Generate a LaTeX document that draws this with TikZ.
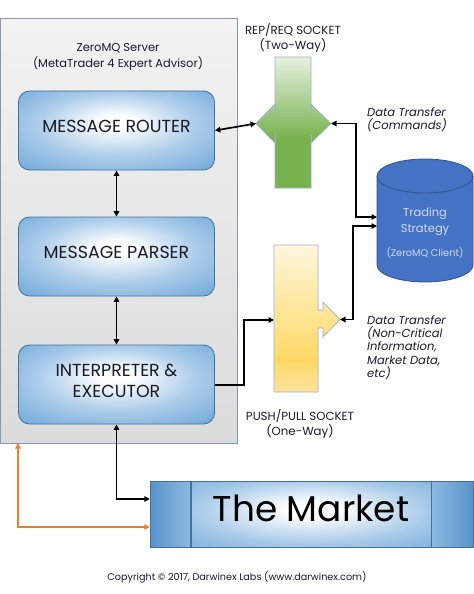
\documentclass[tikz,border=0pt]{standalone}
\usepackage{fontspec}
\setmainfont{Poppins}
\usetikzlibrary{arrows.meta}
\definecolor{boxblue}{HTML}{5B9BD5}
\definecolor{boxedge}{HTML}{41719C}
\definecolor{srvedge}{HTML}{8497B0}
\definecolor{cylblue}{HTML}{4472C4}
\definecolor{cyledge}{HTML}{2F528F}
\definecolor{cyltext}{HTML}{D0DCF0}
\definecolor{grlight}{HTML}{E6F1DE}
\definecolor{grdark}{HTML}{78B350}
\definecolor{yelight}{HTML}{FFF6DC}
\definecolor{yedark}{HTML}{FFD966}
\definecolor{yebot}{HTML}{FCE3A0}
\definecolor{orangeln}{HTML}{ED7D31}
\definecolor{txt}{HTML}{1A1A2A}
\definecolor{baredge}{HTML}{9DB0CF}
\pgfdeclareradialshading{boxshade}{\pgfpoint{0bp}{6bp}}{color(0bp)=(white); color(4bp)=(white); color(20bp)=(boxblue!50); color(38bp)=(boxblue!90); color(50bp)=(boxblue!95!black)}
\pgfdeclareradialshading{mktshade}{\pgfpoint{0bp}{4bp}}{color(0bp)=(white); color(5bp)=(white); color(25bp)=(boxblue!55); color(50bp)=(boxblue)}
\pgfdeclareverticalshading{greenshade}{100bp}{color(0bp)=(grdark); color(44bp)=(grdark); color(75bp)=(grlight); color(100bp)=(grlight)}
\pgfdeclareverticalshading{yellowshade}{100bp}{color(0bp)=(yebot); color(25bp)=(yebot); color(36bp)=(yedark); color(75bp)=(yelight); color(100bp)=(yelight)}
\begin{document}
\begin{tikzpicture}[x=1bp,y=-1bp,
  msgbox/.style={draw=boxedge,line width=0.8bp,rounded corners=11bp,shading=boxshade,
    minimum width=196bp,minimum height=79bp,inner sep=0pt},
  msgtext/.style={font=\fontsize{17.5}{21}\selectfont,text=txt,align=center,inner sep=0pt},
  lbl/.style={font=\fontsize{11.5}{13}\selectfont,text=txt,align=center,inner sep=0pt},
  sock/.style={font=\fontsize{11.8}{13}\selectfont,text=txt,align=center,inner sep=0pt},
  itl/.style={font=\fontsize{11.6}{13.5}\selectfont\itshape,text=txt,align=left,anchor=north west,inner sep=0pt},
  conn/.style={line width=1.7bp,black,{Triangle[length=5.5bp,width=5.5bp]}-{Triangle[length=5.5bp,width=5.5bp]}},
  conn1/.style={line width=1.7bp,black,-{Triangle[length=5.5bp,width=5.5bp]}},
  oconn/.style={line width=1.5bp,orangeln,{Triangle[length=5.5bp,width=5.5bp]}-{Triangle[length=5.5bp,width=5.5bp]}}]
\useasboundingbox (0,0) rectangle (474,594);
\fill[white] (0,0) rectangle (474,594);
% server box
\node[draw=srvedge,line width=0.9bp,top color=black!5,bottom color=black!14,minimum width=236bp,minimum height=425bp,inner sep=0pt,anchor=north west] (server) at (0.5,18) {};
\node[lbl] (srvl1) at (118,48) {ZeroMQ Server};
\node[lbl] (srvl2) at (118,64) {(MetaTrader 4 Expert Advisor)};
% message boxes
\node[msgbox] (router) at (116.5,130.5) {};
\node[msgtext] (routert) at (116.5,126) {MESSAGE ROUTER};
\node[msgbox] (parser) at (116.5,256.5) {};
\node[msgtext] (parsert) at (116.5,252) {MESSAGE PARSER};
\node[msgbox] (interp) at (116.5,384.5) {};
\node[msgtext] (interpt) at (116.5,380.5) {INTERPRETER \&\\EXECUTOR};
% REP/REQ socket
\node[sock] (repl1) at (293,30) {REP/REQ SOCKET};
\node[sock] (repl2) at (293,46) {(Two-Way)};
\path[draw=baredge,line width=0.7bp,shading=greenshade]
  (275,57) -- (311,57) -- (311,104) -- (331,123.5) -- (311,143) -- (311,188) -- (275,188) -- (275,143) -- (256,123.5) -- (275,104) -- cycle;
\draw[baredge,line width=0.7bp] (275,104) -- (275,113) (275,134) -- (275,143) (311,104) -- (311,113) (311,134) -- (311,143);
\coordinate (repL) at (256,123.5);
\coordinate (repR) at (331,123.5);
% PUSH/PULL socket
\node[sock] (pushl1) at (300,416) {PUSH/PULL SOCKET};
\node[sock] (pushl2) at (300,432) {(One-Way)};
\path[draw=baredge,line width=0.7bp,shading=yellowshade]
  (274,245) -- (318,245) -- (318,310) -- (323,310) -- (323,302) -- (340,319.5) -- (323,337) -- (323,328) -- (318,328) -- (318,392) -- (274,392) -- cycle;
\coordinate (pushL) at (274,320);
\coordinate (pushR) at (340,319.5);
% cylinder
\fill[cylblue] (377,176) -- (377,265) .. controls (377,274.4) and (398.5,282) .. (425,282) .. controls (451.5,282) and (473,274.4) .. (473,265) -- (473,176) -- cycle;
\draw[cyledge,line width=0.8bp] (377,176) -- (377,265) .. controls (377,274.4) and (398.5,282) .. (425,282) .. controls (451.5,282) and (473,274.4) .. (473,265) -- (473,176);
\draw[cyledge,line width=0.8bp,fill=cylblue] (425,176) ellipse [x radius=48,y radius=17];
\node[font=\fontsize{11.5}{16.5}\selectfont,text=cyltext,align=center,inner sep=0pt] (cltext) at (425,221.5) {Trading\\Strategy};
\node[font=\fontsize{9.8}{11}\selectfont,text=cyltext,inner sep=0pt] (cltext2) at (425,253) {(ZeroMQ Client)};
\coordinate (cl1) at (377,217);
\coordinate (cl2) at (377,226);
% data transfer labels
\node[itl] (dt1) at (367,107) {Data Transfer\\(Commands)};
\node[itl] (dt2) at (367,315) {Data Transfer\\(Non-Critical\\Information,\\Market Data,\\etc)};
% market
\node[draw=boxedge,line width=0.8bp,shading=mktshade,minimum width=240bp,minimum height=66bp,inner sep=0pt] (market) at (311,514) {};
\node[draw=boxedge,line width=0.8bp,left color=boxblue!95!black,right color=boxblue!70,minimum width=40bp,minimum height=66bp,inner sep=0pt,anchor=east] (mktL) at (market.west) {};
\node[draw=boxedge,line width=0.8bp,left color=boxblue!70,right color=boxblue!95!black,minimum width=42bp,minimum height=66bp,inner sep=0pt,anchor=west] (mktR) at (market.east) {};
\node[font=\fontsize{36}{40}\selectfont,text=black,inner sep=0pt] (mkttext) at (311,508) {The Market};
% copyright
\node[font=\fontsize{9.7}{11}\selectfont,text=txt,inner sep=0pt] (copy) at (237,577) {Copyright \textcopyright{} 2017, Darwinex Labs (www.darwinex.com)};
% connectors
\draw[conn] (router.south) -- (parser.north);
\draw[conn] (parser.south) -- (interp.north);
\draw[conn] (router.east) -- (repL);
\draw[conn] (repR) -- (356,123.5) -- (356,217) -- (cl1);
\draw[conn] (pushR) -- (353,319.5) -- (353,226) -- (cl2);
\draw[conn1] (interp.east |- 0,385) -- (244,385) -- (244,320) -- (pushL);
\draw[conn] (interp.south) -- (116.5,499) -- (mktL.west |- 0,499);
\coordinate (orgtop) at (18,443);
\draw[oconn] (orgtop) -- (18,527) -- (mktL.west |- 0,527);
\end{tikzpicture}
\end{document}
